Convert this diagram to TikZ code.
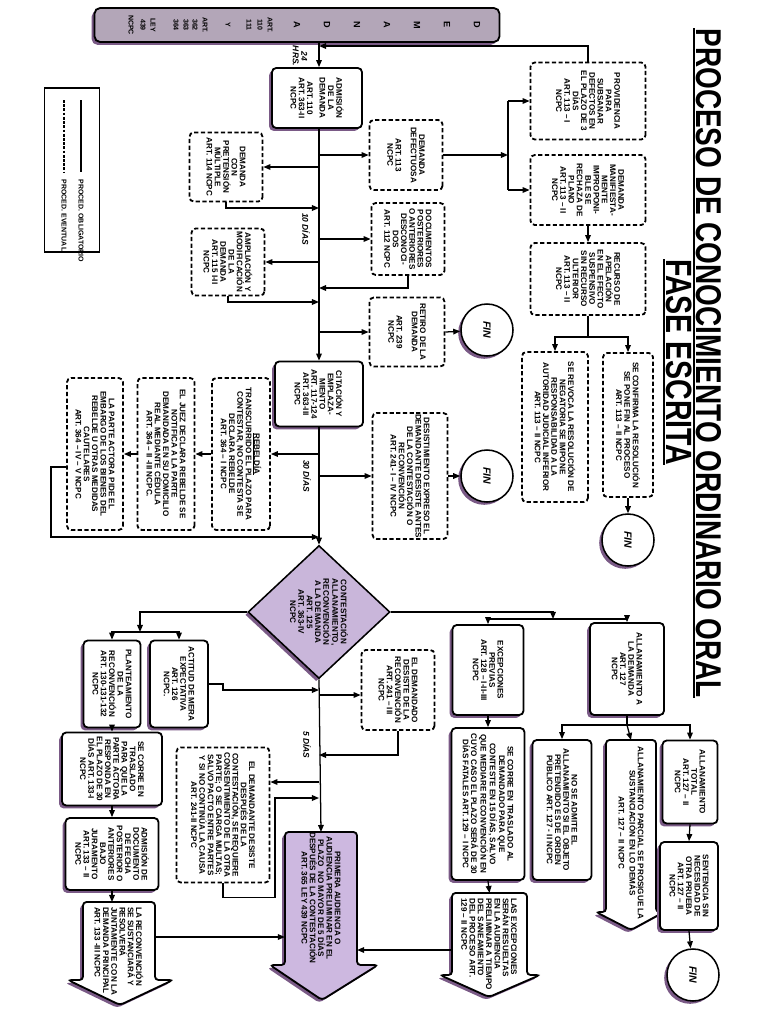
\documentclass[tikz,border=0pt]{standalone}
\usepackage{fontspec}
\setmainfont{Liberation Sans}
\newfontfamily\titlefont{Liberation Sans}[FakeStretch=0.78]
\usetikzlibrary{arrows.meta, shadows, shapes.geometric, calc}

\definecolor{sombra}{HTML}{7A5A86}
\definecolor{barra}{HTML}{B3A6B8}
\definecolor{rombo}{HTML}{C9B6DA}
\definecolor{audiencia}{HTML}{CDB8E0}

\newcommand\cajafont{\bfseries\fontsize{11.5}{11.8}\selectfont}

\tikzset{
  sz/.style 2 args={minimum width=#1*0.05cm, minimum height=#2*0.05cm},
  sombreado/.style={drop shadow={fill=sombra, opacity=1, shadow xshift=-4pt, shadow yshift=-4pt}},
  caja/.style={rectangle, rounded corners=6pt, draw, line width=2.6pt, fill=white,
    align=center, rotate=-90, inner sep=1.5pt, font=\cajafont},
  oblig/.style={caja, sombreado},
  event/.style={caja, dash pattern=on 6pt off 3.5pt},
  flechacaja/.style={draw, line width=2.6pt, rounded corners=5pt, sombreado},
  texto/.style={rotate=-90, align=center, inner sep=1.5pt, font=\cajafont},
  fin/.style={circle, draw, line width=2.2pt, fill=white, minimum size=52*0.05cm,
    rotate=-90, sombreado, font=\bfseries\itshape\fontsize{15}{15}\selectfont},
  flecha/.style={line width=1.8pt, -{Triangle[length=10pt, width=8pt]}},
  linea/.style={line width=1.8pt},
  plazo/.style={rotate=-90, align=center, font=\bfseries\itshape\fontsize{12}{12}\selectfont},
  barletra/.style={rotate=-90, font=\bfseries\fontsize{13}{13}\selectfont},
  bartexto/.style={rotate=-90, font=\bfseries\fontsize{10}{10}\selectfont},
}

\begin{document}
\begin{tikzpicture}[x=0.05cm, y=-0.05cm]
  \fill[white] (0,0) rectangle (768,1024);
  \useasboundingbox (0,0) rectangle (768,1024);

  % Titulos
  \node[rotate=-90, inner xsep=0, inner ysep=3pt, font=\titlefont\bfseries\fontsize{51}{51}\selectfont] (titulo) at (709,363) {PROCESO DE CONOCIMIENTO ORDINARIO ORAL};
  \draw[line width=3pt] (titulo.south west) -- (titulo.south east);
  \node[rotate=-90, inner xsep=0, inner ysep=3pt, font=\titlefont\bfseries\fontsize{52}{52}\selectfont] (fase) at (679,362) {FASE ESCRITA};
  \draw[line width=3pt] (fase.south west) -- (fase.south east);

  % Barra de la demanda
  \node[rectangle, rounded corners=8pt, draw, line width=2.6pt, fill=barra, rotate=-90, sz={34}{405}, sombreado] (bar) at (297,25) {};
  \foreach \l [count=\i from 0] in {D,E,M,A,N,D,A}
    \node[barletra] (d\i) at ({477-30*\i},25) {\l};
  \foreach \t/\x [count=\i] in {ART./270, 110/260, 111/249, Y/228, ART./205, 362/195, 363/186, 364/176, LEY/153, 439/143, NCPC/131}
    \node[bartexto] (b\i) at (\x,25) {\t};

  % Leyenda
  \node[draw, line width=2.6pt, rotate=-90, sz={164}{55}] (leyenda) at (72,170) {};
  \draw[linea] (81,100) -- (81,172);
  \draw[linea, dash pattern=on 4pt off 2pt] (64,100) -- (64,172);
  \node[rotate=-90, anchor=west, font=\bfseries\fontsize{10}{10}\selectfont] (leyobl) at (81,177) {PROCED. OBLIGATORIO};
  \node[rotate=-90, anchor=west, font=\bfseries\fontsize{10}{10}\selectfont] (leyev) at (64,177) {PROCED. EVENTUAL};

  % Fase escrita
  \coordinate (sp) at (319,0);
  \node[oblig, sz={60}{90}] (admision) at (317,98) {ADMISIÓN\\DE LA\\DEMANDA\\[6pt]ART. 110\\ART. 363-II\\NCPC};
  \node[event, sz={70}{73}] (defect) at (406,155) {DEMANDA\\DEFECTUOSA\\[10pt]ART. 113\\NCPC};
  \node[event, sz={69}{73}] (multiple) at (226,167) {DEMANDA\\CON\\PRETENSIÓN\\MÚLTIPLE\\ART. 114 NCPC};
  \node[event, sz={72}{73}] (docs) at (408,239) {DOCUMENTOS\\POSTERIORES\\O ANTERIORES\\DESCONOCI-\\DOS\\ART. 112 NCPC};
  \node[event, sz={67}{73}] (ampli) at (228,262) {AMPLIACIÓN Y\\MODIFICACIÓN\\DE LA\\DEMANDA\\ART. 115 I-II\\NCPC};
  \node[event, sz={69}{75}] (retiro) at (407,332) {RETIRO DE LA\\DEMANDA\\[10pt]ART. 239\\NCPC};
  \node[fin] (fin1) at (487,330) {FIN};
  \node[oblig, sz={65}{88}] (citacion) at (319,394) {CITACIÓN Y\\EMPLAZA-\\MIENTO\\ART. 117-124\\ART. 363-III\\NCPC};
  \node[event, sz={118}{75}] (desist) at (410,476) {DESISTIMIENTO EXPRESO EL\\DEMANDANTE DESISTE ANTES\\DE LA CONTESTACIÓN O\\RECONVENCIÓN\\ART. 241- I – IV NCPC};
  \node[fin] (fin2) at (487,476) {FIN};
  \node[event, sz={152}{58}] (rebeldia) at (241,454) {\underline{REBELDÍA}\\TRANSCURRIDO EL PLAZO PARA\\CONTESTAR, NO CONTESTA SE\\DECLARA REBELDE\\ART. 364 – I NCPC};
  \node[event, sz={152}{57}] (juez) at (166,454) {EL JUEZ DECLARA REBELDE SE\\NOTIFICA A LA PARTE\\DEMANDADA EN SU DOMICILIO\\REAL MEDIANTE CÉDULA\\ART. 364 – II -III NCPC.};
  \node[event, sz={152}{56}] (actora) at (95,454) {LA PARTE ACTORA PIDE EL\\EMBARGO DE LOS BIENES DEL\\REBELDE U OTRAS MEDIDAS\\CAUTELARES\\ART. 364 – IV – V NCPC};
  \node[event, sz={77}{115}] (provid) at (588,101) {PROVIDENCIA\\PARA\\SUBSANAR\\DEFECTOS EN\\EL PLAZO DE 3\\DÍAS\\ART. 113 – I\\NCPC};
  \node[event, sz={70}{115}] (manif) at (588,190) {DEMANDA\\MANIFIESTA-\\MENTE\\IMPROPONI-\\BLE SE\\RECHAZA DE\\PLANO\\ART. 113 – II\\NCPC};
  \node[event, sz={72}{115}] (recurso) at (588,279) {RECURSO DE\\APELACIÓN\\EN EL EFECTO\\SUSPENSIVO\\SIN RECURSO\\ULTERIOR\\ART. 113 – II\\NCPC};
  \node[event, sz={150}{66}] (revoca) at (555,427) {SE REVOCA LA RESOLUCIÓN DE\\NEGATORIA SE IMPONE\\RESPONSABILIDAD A LA\\AUTORIDAD JUDICIAL INFERIOR\\ART. 113 – II NCPC};
  \node[event, sz={144}{50}] (confirma) at (628,425) {SE CONFIRMA LA RESOLUCIÓN\\SE PONE FIN AL PROCESO\\ART. 113 – II NCPC};
  \node[fin] (fin3) at (628,540) {FIN};

  \node[plazo] (hrs) at (300,56) {24\\HRS.};
  \node[plazo] (diez) at (306,229) {10 DÍAS};
  \node[plazo] (treinta) at (307,476) {30 DÍAS};
  \node[plazo] (cinco) at (307,745) {5 DÍAS};

  % Contestacion
  \node[diamond, draw, line width=2.2pt, fill=rombo, rotate=-90, inner sep=0, sz={133}{142}, sombreado] (dia) at (319,612) {};
  \node[texto] (diatxt) at (dia) {CONTESTACIÓN\\ALLANAMIENTO,\\RECONVENCIÓN\\A LA DEMANDA\\ART. 125\\ART. 363-IV\\NCPC};
  \node[oblig, sz={92}{74}] (allan) at (627,669) {ALLANAMIENTO A\\LA DEMANDA\\ART. 127\\NCPC};
  \node[oblig, sz={90}{71}] (excep) at (488,670) {EXCEPCIONES\\PREVIAS\\ART. 128 – I-II-III\\NCPC};
  \node[oblig, sz={83}{55}] (total) at (690,782) {ALLANAMIENTO\\TOTAL\\ART. 127 – II\\NCPC};
  \draw[flechacaja, fill=white] (606,740) -- coordinate (parcialtop) (656,740) -- (656,912) -- (664,912) -- (631,930) -- (596,912) -- (606,912) -- cycle;
  \node[texto] (parcial) at (631,833) {ALLANAMIENTO PARCIAL SE PROSIGUE LA\\SUSTANCIACIÓN EN LO DEMÁS\\[4pt]ART. 127 – II NCPC};
  \node[oblig, sz={140}{59}] (noadm) at (562,810) {NO SE ADMITE EL\\ALLANAMIENTO SI EL OBJETO\\PRETENDIDO ES DE ORDEN\\PÚBLICO ART. 127 - II NCPC};
  \node[oblig, sz={88}{58}] (sentencia) at (689,886) {SENTENCIA SIN\\NECESIDAD DE\\OTRA PRUEBA\\ART. 127 – II\\NCPC};
  \node[fin] (fin4) at (693,975) {FIN};
  \node[oblig, sz={152}{73}] (corre) at (488,804) {SE CORRE EN TRASLADO AL\\DEMANDADO PARA QUE\\CONTESTE EN 15 DÍAS, SALVO\\QUE MEDIARE RECONVENCIÓN EN\\CUYO CASO EL PLAZO SERÁ DE 30\\DÍAS FATALES ART. 129 – I NCPC};
  \draw[flechacaja, fill=white] (452,893) -- coordinate (lasexctop) (527,893) -- (527,975) -- (540,975) -- (489,997) -- (440,975) -- (452,975) -- cycle;
  \node[texto, align=left, sz={82}{75}] (lasexc) at (489,944) {LAS EXCEPCIONES\\SERÁN RESUELTAS\\EN LA AUDIENCIA\\PRELIMINAR A TIEMPO\\DEL SANEAMIENTO\\DEL PROCESO ART.\\129 – II NCPC};
  \node[oblig, sz={87}{58}] (actitud) at (179,684) {ACTITUD DE MERA\\EXPECTATIVA\\ART. 126\\NCPC.};
  \node[oblig, sz={87}{57}] (plante) at (112,684) {PLANTEAMIENTO\\DE LA\\RECONVENCIÓN\\ART. 130-131-132\\NCPC};
  \node[oblig, sz={73}{100}] (correact) at (112,769) {SE CORRE EN\\TRASLADO\\PARA QUE LA\\PARTE ACTORA\\RESPONDA EN\\EL PLAZO DE 30\\DÍAS ART. 133-I\\NCPC};
  \node[oblig, sz={72}{93}] (admdoc) at (112,854) {ADMISIÓN DE\\DOCUMENTO\\DE FECHA\\POSTERIOR O\\ANTERIORES\\BAJO\\JURAMENTO\\ART. 133 – II\\NCPC};
  \draw[flechacaja, fill=white] (83,902) -- coordinate (recontop) (155,902) -- (155,980) -- (173,980) -- (120,1005) -- (68,980) -- (83,980) -- cycle;
  \node[texto, align=left, sz={78}{72}] (recon) at (119,951) {LA RECONVENCIÓN\\SE SUSTANCIARÁ Y\\RESOLVERÁ\\JUNTAMENTE CON LA\\DEMANDA PRINCIPAL\\ART. 133 -III NCPC};
  \node[event, sz={80}{73}] (demdes) at (398,690) {EL DEMANDADO\\DESISTE DE LA\\RECONVENCIÓN\\ART. 241 – III\\NCPC};
  \node[event, sz={135}{93}] (demtes) at (223,815) {EL DEMANDANTE DESISTE\\DESPUÉS DE LA\\CONTESTACIÓN, SE REQUIERE\\CONSENTIMIENTO DE LA OTRA\\PARTE; O SE CARGA MULTAS;\\SALVO PACTO ENTRE PARTES\\Y SI NO CONTINÚA LA CAUSA\\ART. 241-II NCPC};
  \draw[flechacaja, fill=audiencia] (285,832) -- coordinate (primeratop) (357,832) -- (357,965) -- (378,965) -- (322,1000) -- (270,965) -- (285,965) -- cycle;
  \node[texto, sz={133}{72}] (primera) at (321,898) {PRIMERA AUDIENCIA O\\AUDIENCIA PRELIMINAR EN EL\\PLAZO \ NO MAYOR DE 5 DÍAS\\DESPUÉS DE LA CONTESTACIÓN\\ART. 365 LEY 439 NCPC};

  % Conectores fase escrita
  \coordinate (j24) at (319,46);
  \draw[flecha] (bar.east -| sp) -- (admision.west -| sp);
  \draw[flecha] (provid.west) |- (j24);
  \draw[flecha] (admision.east -| sp) -- (citacion.west -| sp);
  \draw[flecha] (sp |- defect) -- (defect.south);
  \draw[flecha] (sp |- multiple) -- (multiple.north);
  \draw[flecha] (multiple.east) |- (sp |- 0,208);
  \draw[flecha] (sp |- docs) -- (docs.south);
  \draw[flecha] (docs.east) |- (sp |- 0,288);
  \draw[flecha] (sp |- ampli) -- (ampli.north);
  \draw[flecha] (ampli.east) |- (sp |- 0,302);
  \draw[flecha] (sp |- retiro) -- (retiro.south);
  \draw[flecha] (retiro.north) -- (fin1);
  \coordinate (dj) at (508,155);
  \draw[flecha] (defect.north) -- (dj);
  \draw[linea] (dj |- provid) -- (dj |- manif);
  \draw[flecha] (dj |- provid) -- (provid.south);
  \draw[flecha] (dj |- manif) -- (manif.south);
  \draw[flecha] (manif.east) -- (recurso.west);
  \coordinate (rj) at (588,337);
  \draw[linea] (recurso.east) -- (rj);
  \draw[flecha] (rj) -| (revoca.west);
  \draw[flecha] (rj) -| (confirma.west);
  \draw[flecha] (confirma.east) -- (fin3);

  % Conectores citacion
  \draw[flecha] (citacion.east -| sp) -- (dia.west);
  \draw[flecha] (sp |- desist) -- (desist.south);
  \draw[flecha] (desist.north) -- (fin2);
  \draw[flecha] (sp |- rebeldia) -- (rebeldia.north);
  \draw[flecha] (rebeldia.south) -- (juez.north);
  \draw[flecha] (juez.south) -- (actora.north);
  \draw[flecha] (actora.south |- 0,467) -- ++(-15,0) |- (sp |- 0,537);

  % Conectores contestacion
  \coordinate (rj2) at (553,619);
  \draw[flecha] (dia.north) -| (rj2);
  \draw[flecha] (rj2) -| (allan.west);
  \draw[flecha] (rj2) -| (excep.west);
  \coordinate (aj) at (627,725);
  \draw[linea] (allan.east) -- (aj);
  \draw[flecha] (aj) -- (parcialtop);
  \draw[flecha] (aj) -| (total.west);
  \draw[flecha] (aj) -| (noadm.west);
  \draw[flecha] (total.east) -- (sentencia.west);
  \draw[flecha] (sentencia.east) -- (fin4);
  \draw[flecha] (excep.east) -- (corre.west);
  \draw[flecha] (corre.east) -- (lasexctop);
  \draw[flecha] (lasexc.south |- 0,950) -- (primera.north |- 0,950);
  \coordinate (lj) at (140,632);
  \draw[flecha] (dia.south) -| (lj);
  \draw[flecha] (lj) -| (actitud.west);
  \draw[flecha] (lj) -| (plante.west);
  \draw[flecha] (actitud.north) -- ++(14,0) |- (sp |- 0,690);
  \draw[flecha] (plante.east) -- (correact.west);
  \draw[flecha] (correact.east) -- (admdoc.west);
  \draw[flecha] (admdoc.east) -- (admdoc.east |- recontop);
  \draw[flecha] (recon.north |- 0,937) -- (primera.south |- 0,937);
  \draw[flecha] (dia.east) -- (primeratop);
  \draw[flecha] (sp |- 0,695) -- (demdes.south |- 0,695);
  \draw[flecha] (demdes.east) |- (sp |- 0,755);
  \draw[flecha] (sp |- 0,782) -- (demtes.north |- 0,782);
  \draw[flecha] (demtes.east) -- ++(0,14) -| (275,798) -- (sp |- 0,798);
\end{tikzpicture}
\end{document}
